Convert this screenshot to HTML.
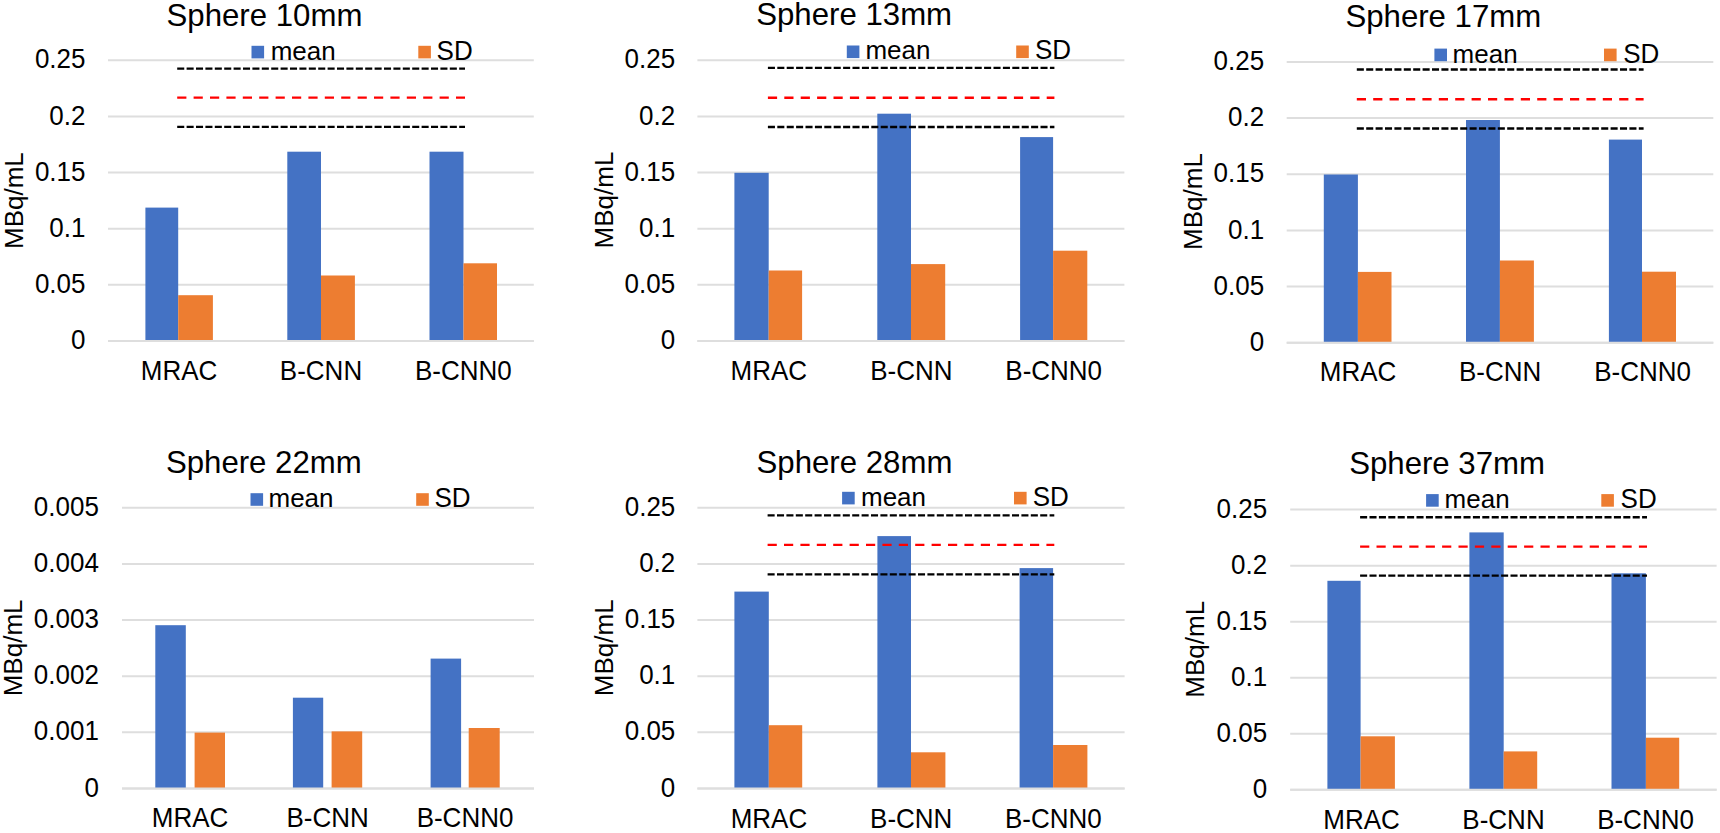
<!DOCTYPE html>
<html><head><meta charset="utf-8"><title>Sphere charts</title>
<style>
html,body{margin:0;padding:0;background:#fff;}
body{width:1720px;height:833px;overflow:hidden;}
svg{display:block;}
text{font-family:'Liberation Sans', Arial, sans-serif;fill:#000000;}
</style></head>
<body>
<svg width="1720" height="833" viewBox="0 0 1720 833">
<rect width="1720" height="833" fill="#fff"/>
<g><line x1="108" y1="60.26" x2="533.8" y2="60.26" stroke="#DEDEDE" stroke-width="2"/><line x1="108" y1="116.4" x2="533.8" y2="116.4" stroke="#DEDEDE" stroke-width="2"/><line x1="108" y1="172.54" x2="533.8" y2="172.54" stroke="#DEDEDE" stroke-width="2"/><line x1="108" y1="228.69" x2="533.8" y2="228.69" stroke="#DEDEDE" stroke-width="2"/><line x1="108" y1="284.83" x2="533.8" y2="284.83" stroke="#DEDEDE" stroke-width="2"/><line x1="108" y1="340.97" x2="533.8" y2="340.97" stroke="#DEDEDE" stroke-width="2"/><rect x="145.4" y="207.6" width="32.8" height="133.37" fill="#4472C4"/><rect x="178.2" y="295.2" width="34.7" height="45.77" fill="#ED7D31"/><rect x="287.3" y="151.7" width="33.7" height="189.27" fill="#4472C4"/><rect x="321" y="275.5" width="33.9" height="65.47" fill="#ED7D31"/><rect x="429.5" y="151.7" width="34" height="189.27" fill="#4472C4"/><rect x="463.5" y="263.3" width="33.5" height="77.67" fill="#ED7D31"/><line x1="108" y1="340.97" x2="533.8" y2="340.97" stroke="#DEDEDE" stroke-width="2"/><line x1="177.2" y1="68.6" x2="465" y2="68.6" stroke="#000" stroke-width="2.35" stroke-dasharray="7.05 2.35"/><line x1="177.2" y1="97.6" x2="465" y2="97.6" stroke="#FF0000" stroke-width="2.35" stroke-dasharray="9.2 7.2"/><line x1="177.2" y1="126.9" x2="465" y2="126.9" stroke="#000" stroke-width="2.35" stroke-dasharray="7.05 2.35"/><text x="264.45" y="25.6" text-anchor="middle" font-size="31.2">Sphere 10mm</text><rect x="251.5" y="45.8" width="12.6" height="12.6" fill="#4472C4"/><rect x="418.3" y="45.8" width="12.6" height="12.6" fill="#ED7D31"/><text x="270.7" y="60.2" font-size="26">mean</text><text transform="translate(436.6,60.2) scale(1,1.065)" font-size="26">SD</text><text transform="translate(85.5,68.36) scale(1,1.065)" text-anchor="end" font-size="26">0.25</text><text transform="translate(85.5,124.5) scale(1,1.065)" text-anchor="end" font-size="26">0.2</text><text transform="translate(85.5,180.64) scale(1,1.065)" text-anchor="end" font-size="26">0.15</text><text transform="translate(85.5,236.79) scale(1,1.065)" text-anchor="end" font-size="26">0.1</text><text transform="translate(85.5,292.93) scale(1,1.065)" text-anchor="end" font-size="26">0.05</text><text transform="translate(85.5,349.07) scale(1,1.065)" text-anchor="end" font-size="26">0</text><text transform="translate(22.8,200.6) rotate(-90)" x="0" y="0" text-anchor="middle" font-size="26">MBq/mL</text><text transform="translate(179.1,379.8) scale(1,1.065)" text-anchor="middle" font-size="26">MRAC</text><text transform="translate(321,379.8) scale(1,1.065)" text-anchor="middle" font-size="26">B-CNN</text><text transform="translate(463.3,379.8) scale(1,1.065)" text-anchor="middle" font-size="26">B-CNN0</text></g>
<g><line x1="697.4" y1="60.26" x2="1124.4" y2="60.26" stroke="#DEDEDE" stroke-width="2"/><line x1="697.4" y1="116.41" x2="1124.4" y2="116.41" stroke="#DEDEDE" stroke-width="2"/><line x1="697.4" y1="172.56" x2="1124.4" y2="172.56" stroke="#DEDEDE" stroke-width="2"/><line x1="697.4" y1="228.72" x2="1124.4" y2="228.72" stroke="#DEDEDE" stroke-width="2"/><line x1="697.4" y1="284.87" x2="1124.4" y2="284.87" stroke="#DEDEDE" stroke-width="2"/><line x1="697.4" y1="341.02" x2="1124.4" y2="341.02" stroke="#DEDEDE" stroke-width="2"/><rect x="734.4" y="172.8" width="34.3" height="168.22" fill="#4472C4"/><rect x="768.7" y="270.5" width="33.4" height="70.52" fill="#ED7D31"/><rect x="877.3" y="113.7" width="33.7" height="227.32" fill="#4472C4"/><rect x="911" y="264.1" width="34.2" height="76.92" fill="#ED7D31"/><rect x="1020.1" y="137.1" width="33" height="203.92" fill="#4472C4"/><rect x="1053.1" y="250.7" width="34.2" height="90.32" fill="#ED7D31"/><line x1="697.4" y1="341.02" x2="1124.4" y2="341.02" stroke="#DEDEDE" stroke-width="2"/><line x1="767.9" y1="67.8" x2="1054.4" y2="67.8" stroke="#000" stroke-width="2.35" stroke-dasharray="7.05 2.35"/><line x1="767.9" y1="97.7" x2="1054.4" y2="97.7" stroke="#FF0000" stroke-width="2.35" stroke-dasharray="9.2 7.2"/><line x1="767.9" y1="127" x2="1054.4" y2="127" stroke="#000" stroke-width="2.35" stroke-dasharray="7.05 2.35"/><text x="854.15" y="25.3" text-anchor="middle" font-size="31.2">Sphere 13mm</text><rect x="846.8" y="45.5" width="12.6" height="12.6" fill="#4472C4"/><rect x="1016.2" y="45.5" width="12.6" height="12.6" fill="#ED7D31"/><text x="865.4" y="59.4" font-size="26">mean</text><text transform="translate(1034.9,59.4) scale(1,1.065)" font-size="26">SD</text><text transform="translate(675.2,68.36) scale(1,1.065)" text-anchor="end" font-size="26">0.25</text><text transform="translate(675.2,124.51) scale(1,1.065)" text-anchor="end" font-size="26">0.2</text><text transform="translate(675.2,180.66) scale(1,1.065)" text-anchor="end" font-size="26">0.15</text><text transform="translate(675.2,236.82) scale(1,1.065)" text-anchor="end" font-size="26">0.1</text><text transform="translate(675.2,292.97) scale(1,1.065)" text-anchor="end" font-size="26">0.05</text><text transform="translate(675.2,349.12) scale(1,1.065)" text-anchor="end" font-size="26">0</text><text transform="translate(612.5,200) rotate(-90)" x="0" y="0" text-anchor="middle" font-size="26">MBq/mL</text><text transform="translate(768.8,379.8) scale(1,1.065)" text-anchor="middle" font-size="26">MRAC</text><text transform="translate(911.3,379.8) scale(1,1.065)" text-anchor="middle" font-size="26">B-CNN</text><text transform="translate(1053.7,379.8) scale(1,1.065)" text-anchor="middle" font-size="26">B-CNN0</text></g>
<g><line x1="1286.7" y1="61.97" x2="1713.3" y2="61.97" stroke="#DEDEDE" stroke-width="2"/><line x1="1286.7" y1="118.11" x2="1713.3" y2="118.11" stroke="#DEDEDE" stroke-width="2"/><line x1="1286.7" y1="174.25" x2="1713.3" y2="174.25" stroke="#DEDEDE" stroke-width="2"/><line x1="1286.7" y1="230.4" x2="1713.3" y2="230.4" stroke="#DEDEDE" stroke-width="2"/><line x1="1286.7" y1="286.54" x2="1713.3" y2="286.54" stroke="#DEDEDE" stroke-width="2"/><line x1="1286.7" y1="342.68" x2="1713.3" y2="342.68" stroke="#DEDEDE" stroke-width="2"/><rect x="1323.8" y="174.5" width="34.1" height="168.18" fill="#4472C4"/><rect x="1357.9" y="271.9" width="33.6" height="70.78" fill="#ED7D31"/><rect x="1466" y="120" width="33.9" height="222.68" fill="#4472C4"/><rect x="1499.9" y="260.5" width="34" height="82.18" fill="#ED7D31"/><rect x="1608.9" y="139.6" width="33.1" height="203.08" fill="#4472C4"/><rect x="1642" y="271.7" width="34" height="70.98" fill="#ED7D31"/><line x1="1286.7" y1="342.68" x2="1713.3" y2="342.68" stroke="#DEDEDE" stroke-width="2"/><line x1="1356.8" y1="69.5" x2="1643.6" y2="69.5" stroke="#000" stroke-width="2.35" stroke-dasharray="7.05 2.35"/><line x1="1356.8" y1="99.2" x2="1643.6" y2="99.2" stroke="#FF0000" stroke-width="2.35" stroke-dasharray="9.2 7.2"/><line x1="1356.8" y1="128.5" x2="1643.6" y2="128.5" stroke="#000" stroke-width="2.35" stroke-dasharray="7.05 2.35"/><text x="1443.35" y="26.74" text-anchor="middle" font-size="31.2">Sphere 17mm</text><rect x="1434.4" y="48.6" width="12.6" height="12.6" fill="#4472C4"/><rect x="1604" y="48.6" width="12.6" height="12.6" fill="#ED7D31"/><text x="1452.6" y="62.8" font-size="26">mean</text><text transform="translate(1623.2,62.8) scale(1,1.065)" font-size="26">SD</text><text transform="translate(1264.1,70.07) scale(1,1.065)" text-anchor="end" font-size="26">0.25</text><text transform="translate(1264.1,126.21) scale(1,1.065)" text-anchor="end" font-size="26">0.2</text><text transform="translate(1264.1,182.35) scale(1,1.065)" text-anchor="end" font-size="26">0.15</text><text transform="translate(1264.1,238.5) scale(1,1.065)" text-anchor="end" font-size="26">0.1</text><text transform="translate(1264.1,294.64) scale(1,1.065)" text-anchor="end" font-size="26">0.05</text><text transform="translate(1264.1,350.78) scale(1,1.065)" text-anchor="end" font-size="26">0</text><text transform="translate(1201.7,201.5) rotate(-90)" x="0" y="0" text-anchor="middle" font-size="26">MBq/mL</text><text transform="translate(1358,381.3) scale(1,1.065)" text-anchor="middle" font-size="26">MRAC</text><text transform="translate(1500.1,381.3) scale(1,1.065)" text-anchor="middle" font-size="26">B-CNN</text><text transform="translate(1642.6,381.3) scale(1,1.065)" text-anchor="middle" font-size="26">B-CNN0</text></g>
<g><line x1="122" y1="507.87" x2="534" y2="507.87" stroke="#DEDEDE" stroke-width="2"/><line x1="122" y1="563.99" x2="534" y2="563.99" stroke="#DEDEDE" stroke-width="2"/><line x1="122" y1="620.1" x2="534" y2="620.1" stroke="#DEDEDE" stroke-width="2"/><line x1="122" y1="676.22" x2="534" y2="676.22" stroke="#DEDEDE" stroke-width="2"/><line x1="122" y1="732.33" x2="534" y2="732.33" stroke="#DEDEDE" stroke-width="2"/><line x1="122" y1="788.45" x2="534" y2="788.45" stroke="#DEDEDE" stroke-width="2"/><rect x="155.3" y="625.2" width="30.5" height="163.25" fill="#4472C4"/><rect x="194.6" y="732.6" width="30.4" height="55.85" fill="#ED7D31"/><rect x="292.9" y="697.7" width="30.3" height="90.75" fill="#4472C4"/><rect x="331.6" y="731.4" width="30.6" height="57.05" fill="#ED7D31"/><rect x="430.6" y="658.6" width="30.5" height="129.85" fill="#4472C4"/><rect x="468.7" y="728" width="31" height="60.45" fill="#ED7D31"/><line x1="122" y1="788.45" x2="534" y2="788.45" stroke="#DEDEDE" stroke-width="2"/><text x="263.85" y="472.8" text-anchor="middle" font-size="31.2">Sphere 22mm</text><rect x="250.5" y="493.2" width="12.6" height="12.6" fill="#4472C4"/><rect x="416.2" y="493.2" width="12.6" height="12.6" fill="#ED7D31"/><text x="268.5" y="507.2" font-size="26">mean</text><text transform="translate(434.5,507.2) scale(1,1.065)" font-size="26">SD</text><text transform="translate(98.9,515.97) scale(1,1.065)" text-anchor="end" font-size="26">0.005</text><text transform="translate(98.9,572.09) scale(1,1.065)" text-anchor="end" font-size="26">0.004</text><text transform="translate(98.9,628.2) scale(1,1.065)" text-anchor="end" font-size="26">0.003</text><text transform="translate(98.9,684.32) scale(1,1.065)" text-anchor="end" font-size="26">0.002</text><text transform="translate(98.9,740.43) scale(1,1.065)" text-anchor="end" font-size="26">0.001</text><text transform="translate(98.9,796.55) scale(1,1.065)" text-anchor="end" font-size="26">0</text><text transform="translate(21.5,647.9) rotate(-90)" x="0" y="0" text-anchor="middle" font-size="26">MBq/mL</text><text transform="translate(190,827.3) scale(1,1.065)" text-anchor="middle" font-size="26">MRAC</text><text transform="translate(327.6,827.3) scale(1,1.065)" text-anchor="middle" font-size="26">B-CNN</text><text transform="translate(465,827.3) scale(1,1.065)" text-anchor="middle" font-size="26">B-CNN0</text></g>
<g><line x1="697.4" y1="507.87" x2="1124.6" y2="507.87" stroke="#DEDEDE" stroke-width="2"/><line x1="697.4" y1="563.99" x2="1124.6" y2="563.99" stroke="#DEDEDE" stroke-width="2"/><line x1="697.4" y1="620.1" x2="1124.6" y2="620.1" stroke="#DEDEDE" stroke-width="2"/><line x1="697.4" y1="676.22" x2="1124.6" y2="676.22" stroke="#DEDEDE" stroke-width="2"/><line x1="697.4" y1="732.33" x2="1124.6" y2="732.33" stroke="#DEDEDE" stroke-width="2"/><line x1="697.4" y1="788.45" x2="1124.6" y2="788.45" stroke="#DEDEDE" stroke-width="2"/><rect x="734.4" y="591.6" width="34.4" height="196.85" fill="#4472C4"/><rect x="768.8" y="725.2" width="33.4" height="63.25" fill="#ED7D31"/><rect x="877.4" y="536.1" width="33.6" height="252.35" fill="#4472C4"/><rect x="911" y="752.3" width="34.4" height="36.15" fill="#ED7D31"/><rect x="1019.6" y="568.1" width="33.5" height="220.35" fill="#4472C4"/><rect x="1053.1" y="745" width="34.3" height="43.45" fill="#ED7D31"/><line x1="697.4" y1="788.45" x2="1124.6" y2="788.45" stroke="#DEDEDE" stroke-width="2"/><line x1="767.6" y1="515.3" x2="1054.3" y2="515.3" stroke="#000" stroke-width="2.35" stroke-dasharray="7.05 2.35"/><line x1="767.6" y1="544.9" x2="1054.3" y2="544.9" stroke="#FF0000" stroke-width="2.35" stroke-dasharray="9.2 7.2"/><line x1="767.6" y1="574.3" x2="1054.3" y2="574.3" stroke="#000" stroke-width="2.35" stroke-dasharray="7.05 2.35"/><text x="854.45" y="472.6" text-anchor="middle" font-size="31.2">Sphere 28mm</text><rect x="842.1" y="491.8" width="12.6" height="12.6" fill="#4472C4"/><rect x="1014" y="491.8" width="12.6" height="12.6" fill="#ED7D31"/><text x="861" y="505.8" font-size="26">mean</text><text transform="translate(1032.7,505.8) scale(1,1.065)" font-size="26">SD</text><text transform="translate(675.3,515.97) scale(1,1.065)" text-anchor="end" font-size="26">0.25</text><text transform="translate(675.3,572.09) scale(1,1.065)" text-anchor="end" font-size="26">0.2</text><text transform="translate(675.3,628.2) scale(1,1.065)" text-anchor="end" font-size="26">0.15</text><text transform="translate(675.3,684.32) scale(1,1.065)" text-anchor="end" font-size="26">0.1</text><text transform="translate(675.3,740.43) scale(1,1.065)" text-anchor="end" font-size="26">0.05</text><text transform="translate(675.3,796.55) scale(1,1.065)" text-anchor="end" font-size="26">0</text><text transform="translate(612.5,647.8) rotate(-90)" x="0" y="0" text-anchor="middle" font-size="26">MBq/mL</text><text transform="translate(768.9,827.5) scale(1,1.065)" text-anchor="middle" font-size="26">MRAC</text><text transform="translate(911.2,827.5) scale(1,1.065)" text-anchor="middle" font-size="26">B-CNN</text><text transform="translate(1053.3,827.5) scale(1,1.065)" text-anchor="middle" font-size="26">B-CNN0</text></g>
<g><line x1="1290.2" y1="509.59" x2="1716.6" y2="509.59" stroke="#DEDEDE" stroke-width="2"/><line x1="1290.2" y1="565.65" x2="1716.6" y2="565.65" stroke="#DEDEDE" stroke-width="2"/><line x1="1290.2" y1="621.7" x2="1716.6" y2="621.7" stroke="#DEDEDE" stroke-width="2"/><line x1="1290.2" y1="677.76" x2="1716.6" y2="677.76" stroke="#DEDEDE" stroke-width="2"/><line x1="1290.2" y1="733.81" x2="1716.6" y2="733.81" stroke="#DEDEDE" stroke-width="2"/><line x1="1290.2" y1="789.87" x2="1716.6" y2="789.87" stroke="#DEDEDE" stroke-width="2"/><rect x="1327.4" y="580.8" width="33.2" height="209.07" fill="#4472C4"/><rect x="1360.6" y="736.3" width="34.3" height="53.57" fill="#ED7D31"/><rect x="1469.4" y="532.4" width="34.3" height="257.47" fill="#4472C4"/><rect x="1503.7" y="751.4" width="33.5" height="38.47" fill="#ED7D31"/><rect x="1611.5" y="573.3" width="34.4" height="216.57" fill="#4472C4"/><rect x="1645.9" y="737.7" width="33.3" height="52.17" fill="#ED7D31"/><line x1="1290.2" y1="789.87" x2="1716.6" y2="789.87" stroke="#DEDEDE" stroke-width="2"/><line x1="1360.1" y1="517.2" x2="1647" y2="517.2" stroke="#000" stroke-width="2.35" stroke-dasharray="7.05 2.35"/><line x1="1360.1" y1="546.6" x2="1647" y2="546.6" stroke="#FF0000" stroke-width="2.35" stroke-dasharray="9.2 7.2"/><line x1="1360.1" y1="575.6" x2="1647" y2="575.6" stroke="#000" stroke-width="2.35" stroke-dasharray="7.05 2.35"/><text x="1447.1" y="474.1" text-anchor="middle" font-size="31.2">Sphere 37mm</text><rect x="1426.1" y="494.1" width="12.6" height="12.6" fill="#4472C4"/><rect x="1601.3" y="494.1" width="12.6" height="12.6" fill="#ED7D31"/><text x="1444.6" y="508.4" font-size="26">mean</text><text transform="translate(1620.6,508.4) scale(1,1.065)" font-size="26">SD</text><text transform="translate(1267.2,517.69) scale(1,1.065)" text-anchor="end" font-size="26">0.25</text><text transform="translate(1267.2,573.75) scale(1,1.065)" text-anchor="end" font-size="26">0.2</text><text transform="translate(1267.2,629.8) scale(1,1.065)" text-anchor="end" font-size="26">0.15</text><text transform="translate(1267.2,685.86) scale(1,1.065)" text-anchor="end" font-size="26">0.1</text><text transform="translate(1267.2,741.91) scale(1,1.065)" text-anchor="end" font-size="26">0.05</text><text transform="translate(1267.2,797.97) scale(1,1.065)" text-anchor="end" font-size="26">0</text><text transform="translate(1204.3,649.3) rotate(-90)" x="0" y="0" text-anchor="middle" font-size="26">MBq/mL</text><text transform="translate(1361.5,828.5) scale(1,1.065)" text-anchor="middle" font-size="26">MRAC</text><text transform="translate(1503.5,828.5) scale(1,1.065)" text-anchor="middle" font-size="26">B-CNN</text><text transform="translate(1645.5,828.5) scale(1,1.065)" text-anchor="middle" font-size="26">B-CNN0</text></g>
</svg>
</body></html>
